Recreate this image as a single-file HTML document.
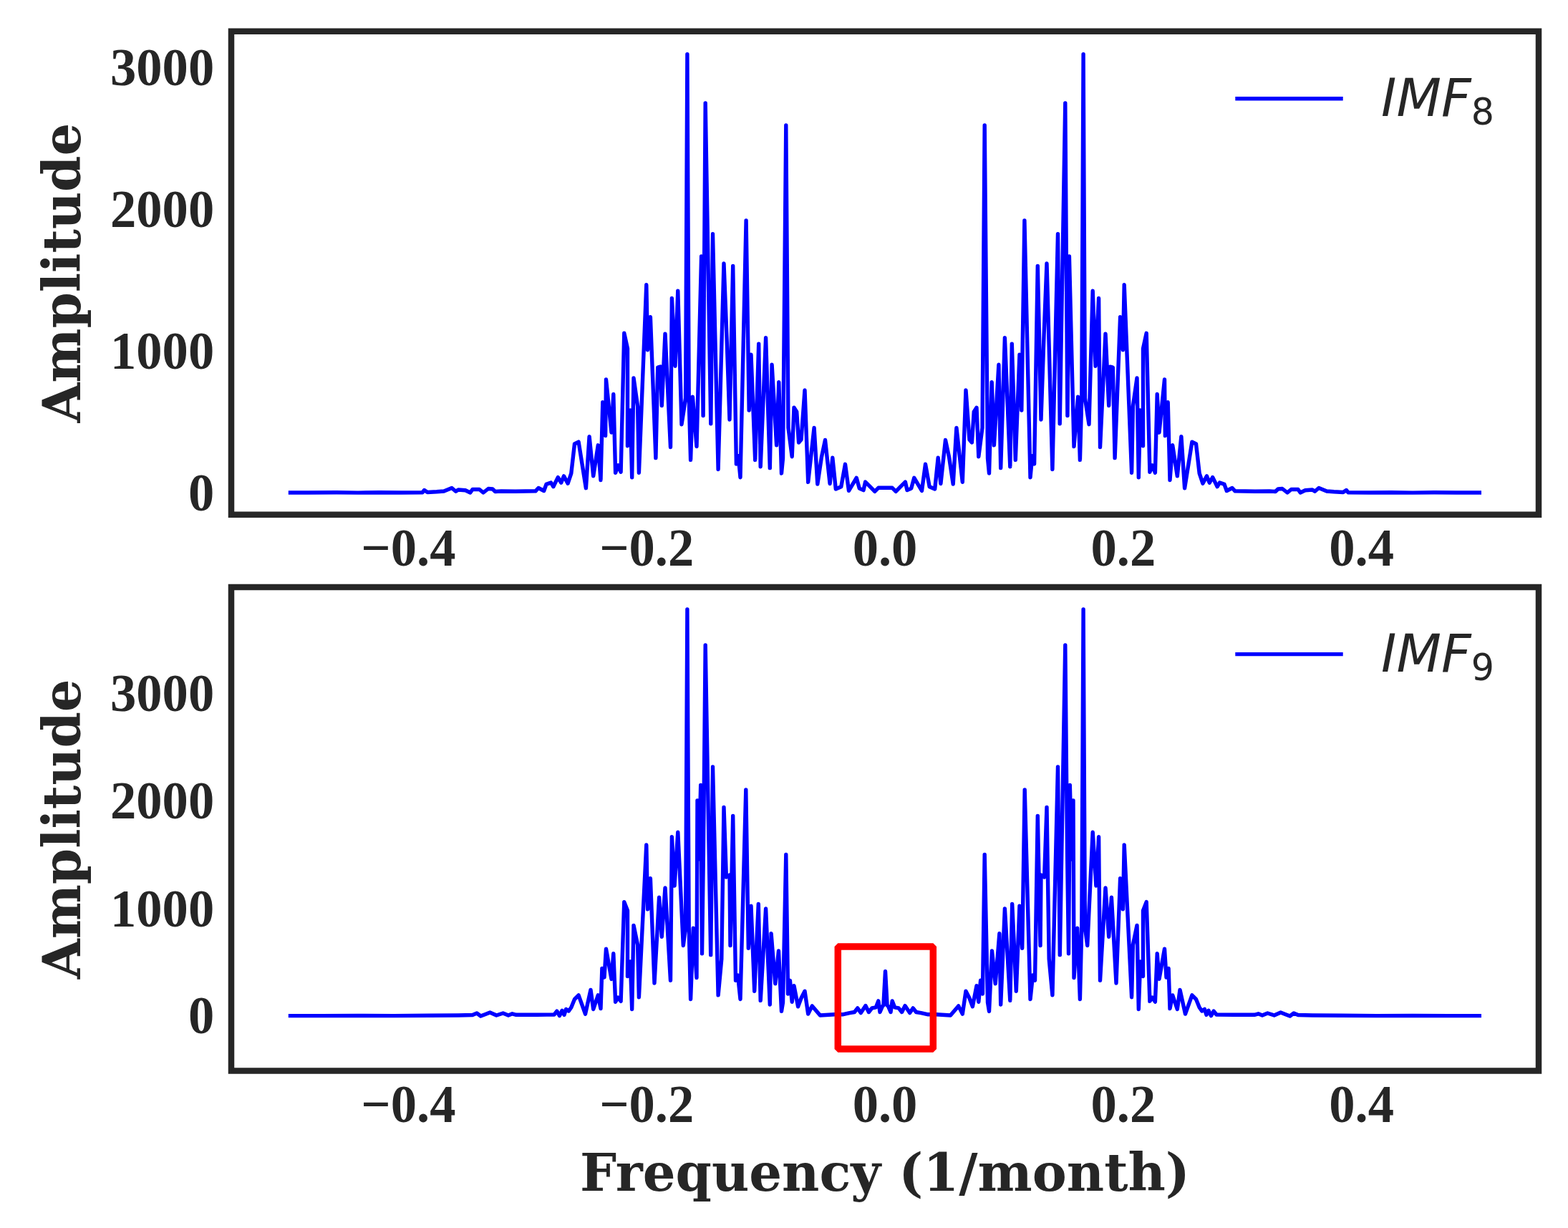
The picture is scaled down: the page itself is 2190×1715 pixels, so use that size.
<!DOCTYPE html>
<html><head><meta charset="utf-8"><title>IMF spectra</title><style>html,body{margin:0;padding:0;background:#fff;}svg{display:block;}</style></head><body>
<svg width="2190" height="1715" viewBox="0 0 2190 1715">
<rect x="0" y="0" width="2190" height="1715" fill="#fff"/>
<path d="M405.5,688.0 L430.0,688.0 L470.0,687.8 L500.0,688.1 L530.0,687.7 L560.0,688.0 L590.0,687.7 L592.6,684.5 L597.0,687.5 L610.0,686.8 L620.0,686.0 L631.0,681.5 L636.6,686.2 L640.0,684.0 L650.0,684.8 L656.8,688.0 L660.0,683.5 L669.6,683.5 L675.0,688.0 L682.0,682.5 L688.0,683.0 L691.6,686.5 L700.0,686.0 L720.0,686.2 L748.0,685.8 L752.0,681.5 L759.7,685.5 L763.0,676.4 L769.5,674.0 L772.8,679.7 L779.3,666.6 L783.7,674.2 L787.5,664.9 L793.1,675.2 L797.8,661.1 L802.5,619.9 L808.1,617.1 L818.4,681.7 L823.1,609.6 L828.7,664.9 L835.3,621.8 L839.0,670.5 L841.8,561.8 L845.6,608.6 L846.5,529.9 L854.0,604.0 L856.8,550.5 L859.6,660.2 L863.4,649.9 L867.1,659.2 L871.8,465.3 L876.5,486.8 L876.5,622.7 L880.3,573.0 L882.7,666.7 L885.0,528.0 L890.6,567.4 L892.4,660.2 L902.8,397.8 L904.6,488.7 L908.4,442.8 L915.9,639.6 L918.7,513.0 L922.4,512.1 L924.3,566.5 L929.0,466.2 L936.5,624.6 L938.4,416.5 L943.0,511.2 L946.8,406.2 L952.0,592.7 L957.6,556.0 L959.9,75.6 L962.2,556.0 L964.6,642.4 L967.4,554.3 L973.0,623.6 L979.6,357.9 L982.1,580.5 L985.2,144.0 L992.8,591.8 L995.5,326.7 L1003.1,655.5 L1011.0,368.0 L1015.0,470.0 L1019.0,586.0 L1023.7,371.5 L1028.4,648.0 L1031.2,636.7 L1034.0,666.7 L1042.1,308.0 L1046.2,573.0 L1049.0,495.3 L1054.7,642.4 L1059.7,480.3 L1062.2,651.7 L1069.6,471.8 L1075.3,653.6 L1078.1,509.3 L1084.6,621.8 L1087.8,533.7 L1091.5,661.1 L1093.5,640.0 L1097.8,175.0 L1101.0,597.4 L1106.2,637.7 L1109.0,569.3 L1112.7,574.9 L1115.6,618.0 L1119.0,614.0 L1124.0,544.9 L1128.7,673.3 L1137.1,597.4 L1141.8,676.1 L1147.4,638.6 L1152.5,614.5 L1159.1,675.5 L1162.8,639.2 L1167.3,683.0 L1174.8,679.7 L1180.5,648.3 L1185.5,685.4 L1196.2,667.3 L1200.3,682.1 L1206.0,684.6 L1208.6,673.1 L1215.2,679.7 L1221.8,686.3 L1226.8,681.3 L1236.5,681.3 L1246.2,681.3 L1251.2,686.3 L1257.8,679.7 L1264.4,673.1 L1267.0,684.6 L1272.7,682.1 L1276.8,667.3 L1287.5,685.4 L1292.5,648.3 L1298.2,679.7 L1305.7,683.0 L1310.2,639.2 L1313.9,675.5 L1320.5,614.5 L1325.6,638.6 L1331.2,676.1 L1335.9,597.4 L1344.3,673.3 L1349.0,544.9 L1354.0,614.0 L1357.4,618.0 L1360.3,574.9 L1364.0,569.3 L1366.8,637.7 L1372.0,597.4 L1375.2,175.0 L1379.5,640.0 L1381.5,661.1 L1385.2,533.7 L1388.4,621.8 L1394.9,509.3 L1397.7,653.6 L1403.4,471.8 L1410.8,651.7 L1413.3,480.3 L1418.3,642.4 L1424.0,495.3 L1426.8,573.0 L1430.9,308.0 L1439.0,666.7 L1441.8,636.7 L1444.6,648.0 L1449.3,371.5 L1454.0,586.0 L1458.0,470.0 L1462.0,368.0 L1469.9,655.5 L1477.5,326.7 L1480.2,591.8 L1487.8,144.0 L1490.9,580.5 L1493.4,357.9 L1500.0,623.6 L1505.6,554.3 L1508.4,642.4 L1510.8,556.0 L1513.1,75.6 L1515.4,556.0 L1521.0,592.7 L1526.2,406.2 L1530.0,511.2 L1534.6,416.5 L1536.5,624.6 L1544.0,466.2 L1548.7,566.5 L1550.6,512.1 L1554.3,513.0 L1557.1,639.6 L1564.6,442.8 L1568.4,488.7 L1570.2,397.8 L1580.6,660.2 L1582.4,567.4 L1588.0,528.0 L1590.3,666.7 L1592.7,573.0 L1596.5,622.7 L1596.5,486.8 L1601.2,465.3 L1605.9,659.2 L1609.6,649.9 L1613.4,660.2 L1616.2,550.5 L1619.0,604.0 L1626.5,529.9 L1627.4,608.6 L1631.2,561.8 L1634.0,670.5 L1637.7,621.8 L1644.3,664.9 L1649.9,609.6 L1654.6,681.7 L1664.9,617.1 L1670.5,619.9 L1675.2,661.1 L1679.9,675.2 L1685.5,664.9 L1689.3,674.2 L1693.7,666.6 L1700.2,679.7 L1703.5,674.0 L1710.0,676.4 L1713.3,685.5 L1721.0,681.5 L1725.0,685.8 L1753.0,686.2 L1773.0,686.0 L1781.4,686.5 L1785.0,683.0 L1791.0,682.5 L1798.0,688.0 L1803.4,683.5 L1813.0,683.5 L1816.2,688.0 L1823.0,684.8 L1833.0,684.0 L1836.4,686.2 L1842.0,681.5 L1853.0,686.0 L1863.0,686.8 L1876.0,687.5 L1880.4,684.5 L1883.0,687.7 L1913.0,688.0 L1943.0,687.7 L1973.0,688.1 L2003.0,687.8 L2043.0,688.0 L2066.3,688.0" fill="none" stroke="#0000ff" stroke-width="5.4" stroke-linejoin="round" stroke-linecap="square"/>
<rect x="323" y="43.75" width="1826" height="675" fill="none" stroke="#262626" stroke-width="8.5"/>
<text transform="translate(299.2,119.3) scale(1,1.03)" text-anchor="end" font-family="Liberation Serif, serif" font-weight="bold" font-size="72.6" fill="#262626">3000</text>
<text transform="translate(299.2,317.1) scale(1,1.03)" text-anchor="end" font-family="Liberation Serif, serif" font-weight="bold" font-size="72.6" fill="#262626">2000</text>
<text transform="translate(299.2,515.0) scale(1,1.03)" text-anchor="end" font-family="Liberation Serif, serif" font-weight="bold" font-size="72.6" fill="#262626">1000</text>
<text transform="translate(299.2,712.8) scale(1,1.03)" text-anchor="end" font-family="Liberation Serif, serif" font-weight="bold" font-size="72.6" fill="#262626">0</text>
<text transform="translate(570.4,790.4) scale(1,1.03)" text-anchor="middle" font-family="Liberation Serif, serif" font-weight="bold" font-size="72.6" fill="#262626">&#8722;0.4</text>
<text transform="translate(903.2,790.4) scale(1,1.03)" text-anchor="middle" font-family="Liberation Serif, serif" font-weight="bold" font-size="72.6" fill="#262626">&#8722;0.2</text>
<text transform="translate(1236.0,790.4) scale(1,1.03)" text-anchor="middle" font-family="Liberation Serif, serif" font-weight="bold" font-size="72.6" fill="#262626">0.0</text>
<text transform="translate(1568.8,790.4) scale(1,1.03)" text-anchor="middle" font-family="Liberation Serif, serif" font-weight="bold" font-size="72.6" fill="#262626">0.2</text>
<text transform="translate(1901.6,790.4) scale(1,1.03)" text-anchor="middle" font-family="Liberation Serif, serif" font-weight="bold" font-size="72.6" fill="#262626">0.4</text>
<text transform="translate(112,381.2) rotate(-90)" text-anchor="middle" font-family="DejaVu Serif, serif" font-weight="bold" font-size="72" fill="#262626">Amplitude</text>
<line x1="1728" y1="137.7" x2="1873" y2="137.7" stroke="#0000ff" stroke-width="5.4" stroke-linecap="square"/>
<text x="1929" y="161.7" font-family="DejaVu Sans, sans-serif" font-size="72.5" fill="#262626"><tspan font-style="italic">IMF</tspan><tspan font-size="50.7" dy="12">8</tspan></text>
<path d="M405.5,1418.6 L450.0,1418.6 L500.0,1418.5 L550.0,1418.6 L600.0,1418.3 L640.0,1418.0 L660.0,1417.5 L666.0,1415.0 L671.4,1419.0 L678.0,1416.5 L684.3,1414.0 L693.4,1418.0 L702.6,1415.0 L710.0,1418.0 L715.5,1415.8 L721.0,1417.3 L750.0,1417.3 L774.0,1417.0 L777.8,1412.2 L781.5,1418.6 L785.1,1411.3 L788.0,1417.3 L790.6,1409.4 L794.3,1412.0 L797.8,1407.0 L802.5,1395.5 L808.1,1389.9 L817.5,1416.1 L825.0,1382.4 L828.7,1409.5 L835.3,1389.9 L839.0,1408.6 L840.9,1352.4 L844.0,1365.0 L846.5,1325.2 L854.0,1367.4 L856.8,1331.8 L859.6,1399.2 L863.4,1393.0 L867.1,1398.3 L871.8,1259.6 L876.5,1271.8 L876.5,1363.6 L880.3,1343.0 L882.7,1409.5 L885.0,1292.4 L890.6,1319.6 L892.4,1392.7 L902.8,1180.0 L904.6,1269.9 L908.4,1226.8 L914.0,1373.0 L920.6,1253.1 L924.3,1308.3 L929.0,1239.9 L936.5,1369.3 L938.4,1168.7 L942.1,1237.1 L946.8,1162.2 L954.3,1320.5 L957.6,1295.0 L959.9,851.0 L962.2,1295.0 L964.6,1395.5 L968.3,1296.2 L973.0,1365.5 L974.0,1118.0 L976.0,1200.0 L978.7,1096.5 L980.5,1331.8 L982.4,1193.0 L985.2,901.0 L992.7,1333.6 L995.5,1071.0 L1003.1,1389.9 L1007.8,1339.3 L1011.0,1127.5 L1014.4,1225.0 L1019.0,1222.0 L1020.0,1320.5 L1023.7,1139.5 L1027.5,1369.3 L1030.5,1362.0 L1034.0,1395.5 L1041.8,1103.0 L1045.3,1324.3 L1049.0,1265.2 L1053.7,1384.2 L1059.3,1262.4 L1062.2,1397.4 L1069.6,1269.0 L1075.3,1403.0 L1077.1,1303.7 L1082.8,1373.9 L1087.5,1328.0 L1091.5,1412.4 L1093.5,1400.0 L1097.8,1193.5 L1100.6,1388.0 L1103.4,1369.3 L1106.2,1399.2 L1109.0,1376.7 L1114.6,1405.8 L1119.0,1394.0 L1124.0,1384.2 L1128.7,1416.1 L1134.3,1404.9 L1145.5,1418.0 L1165.6,1416.8 L1176.7,1416.8 L1186.7,1414.6 L1193.4,1413.5 L1197.8,1407.9 L1202.3,1414.6 L1209.0,1404.6 L1213.4,1413.5 L1217.9,1407.9 L1223.4,1406.8 L1226.8,1397.9 L1229.0,1413.5 L1232.3,1405.7 L1233.9,1404.0 L1236.5,1356.5 L1239.1,1404.0 L1240.7,1405.7 L1244.0,1413.5 L1246.2,1397.9 L1249.6,1406.8 L1255.1,1407.9 L1259.6,1413.5 L1264.0,1404.6 L1270.7,1414.6 L1275.2,1407.9 L1279.6,1413.5 L1286.3,1414.6 L1296.3,1416.8 L1307.4,1416.8 L1327.5,1418.0 L1338.7,1404.9 L1344.3,1416.1 L1349.0,1384.2 L1354.0,1394.0 L1358.4,1405.8 L1364.0,1376.7 L1366.8,1399.2 L1369.6,1369.3 L1372.4,1388.0 L1375.2,1193.5 L1379.5,1400.0 L1381.5,1412.4 L1385.5,1328.0 L1390.2,1373.9 L1395.9,1303.7 L1397.7,1403.0 L1403.4,1269.0 L1410.8,1397.4 L1413.7,1262.4 L1419.3,1384.2 L1424.0,1265.2 L1427.7,1324.3 L1431.2,1103.0 L1439.0,1395.5 L1442.5,1362.0 L1445.5,1369.3 L1449.3,1139.5 L1453.0,1320.5 L1454.0,1222.0 L1458.6,1225.0 L1462.0,1127.5 L1465.2,1339.3 L1469.9,1389.9 L1477.5,1071.0 L1480.3,1333.6 L1487.8,901.0 L1490.6,1193.0 L1492.5,1331.8 L1494.3,1096.5 L1497.0,1200.0 L1499.0,1118.0 L1500.0,1365.5 L1504.7,1296.2 L1508.4,1395.5 L1510.8,1295.0 L1513.1,851.0 L1515.4,1295.0 L1518.7,1320.5 L1526.2,1162.2 L1530.9,1237.1 L1534.6,1168.7 L1536.5,1369.3 L1544.0,1239.9 L1548.7,1308.3 L1552.4,1253.1 L1559.0,1373.0 L1564.6,1226.8 L1568.4,1269.9 L1570.2,1180.0 L1580.6,1392.7 L1582.4,1319.6 L1588.0,1292.4 L1590.3,1409.5 L1592.7,1343.0 L1596.5,1363.6 L1596.5,1271.8 L1601.2,1259.6 L1605.9,1398.3 L1609.6,1393.0 L1613.4,1399.2 L1616.2,1331.8 L1619.0,1367.4 L1626.5,1325.2 L1629.0,1365.0 L1632.1,1352.4 L1634.0,1408.6 L1637.7,1389.9 L1644.3,1409.5 L1648.0,1382.4 L1655.5,1416.1 L1664.9,1389.9 L1670.5,1395.5 L1675.2,1407.0 L1678.7,1412.0 L1682.4,1409.4 L1685.0,1417.3 L1687.9,1411.3 L1691.5,1418.6 L1695.2,1412.2 L1699.0,1417.0 L1723.0,1417.3 L1752.0,1417.3 L1757.5,1415.8 L1763.0,1418.0 L1770.4,1415.0 L1779.6,1418.0 L1788.7,1414.0 L1795.0,1416.5 L1801.6,1419.0 L1807.0,1415.0 L1813.0,1417.5 L1833.0,1418.0 L1873.0,1418.3 L1923.0,1418.6 L1973.0,1418.5 L2023.0,1418.6 L2066.3,1418.6" fill="none" stroke="#0000ff" stroke-width="5.4" stroke-linejoin="round" stroke-linecap="square"/>
<rect x="323" y="820" width="1826" height="675.5" fill="none" stroke="#262626" stroke-width="8.5"/>
<text transform="translate(299.2,992.5) scale(1,1.03)" text-anchor="end" font-family="Liberation Serif, serif" font-weight="bold" font-size="72.6" fill="#262626">3000</text>
<text transform="translate(299.2,1143.2) scale(1,1.03)" text-anchor="end" font-family="Liberation Serif, serif" font-weight="bold" font-size="72.6" fill="#262626">2000</text>
<text transform="translate(299.2,1293.8) scale(1,1.03)" text-anchor="end" font-family="Liberation Serif, serif" font-weight="bold" font-size="72.6" fill="#262626">1000</text>
<text transform="translate(299.2,1443.4) scale(1,1.03)" text-anchor="end" font-family="Liberation Serif, serif" font-weight="bold" font-size="72.6" fill="#262626">0</text>
<text transform="translate(570.4,1567.1) scale(1,1.03)" text-anchor="middle" font-family="Liberation Serif, serif" font-weight="bold" font-size="72.6" fill="#262626">&#8722;0.4</text>
<text transform="translate(903.2,1567.1) scale(1,1.03)" text-anchor="middle" font-family="Liberation Serif, serif" font-weight="bold" font-size="72.6" fill="#262626">&#8722;0.2</text>
<text transform="translate(1236.0,1567.1) scale(1,1.03)" text-anchor="middle" font-family="Liberation Serif, serif" font-weight="bold" font-size="72.6" fill="#262626">0.0</text>
<text transform="translate(1568.8,1567.1) scale(1,1.03)" text-anchor="middle" font-family="Liberation Serif, serif" font-weight="bold" font-size="72.6" fill="#262626">0.2</text>
<text transform="translate(1901.6,1567.1) scale(1,1.03)" text-anchor="middle" font-family="Liberation Serif, serif" font-weight="bold" font-size="72.6" fill="#262626">0.4</text>
<text transform="translate(112,1157.8) rotate(-90)" text-anchor="middle" font-family="DejaVu Serif, serif" font-weight="bold" font-size="72" fill="#262626">Amplitude</text>
<line x1="1728" y1="913.6" x2="1873" y2="913.6" stroke="#0000ff" stroke-width="5.4" stroke-linecap="square"/>
<text x="1929" y="937.6" font-family="DejaVu Sans, sans-serif" font-size="72.5" fill="#262626"><tspan font-style="italic">IMF</tspan><tspan font-size="50.7" dy="12">9</tspan></text>
<rect x="1170.3" y="1322" width="133" height="143" fill="none" stroke="#ff0000" stroke-width="9.5" stroke-linejoin="bevel"/>
<text x="1235.9" y="1663.3" text-anchor="middle" font-family="DejaVu Serif, serif" font-weight="bold" font-size="72" fill="#262626">Frequency (1/month)</text>
</svg>
</body></html>
